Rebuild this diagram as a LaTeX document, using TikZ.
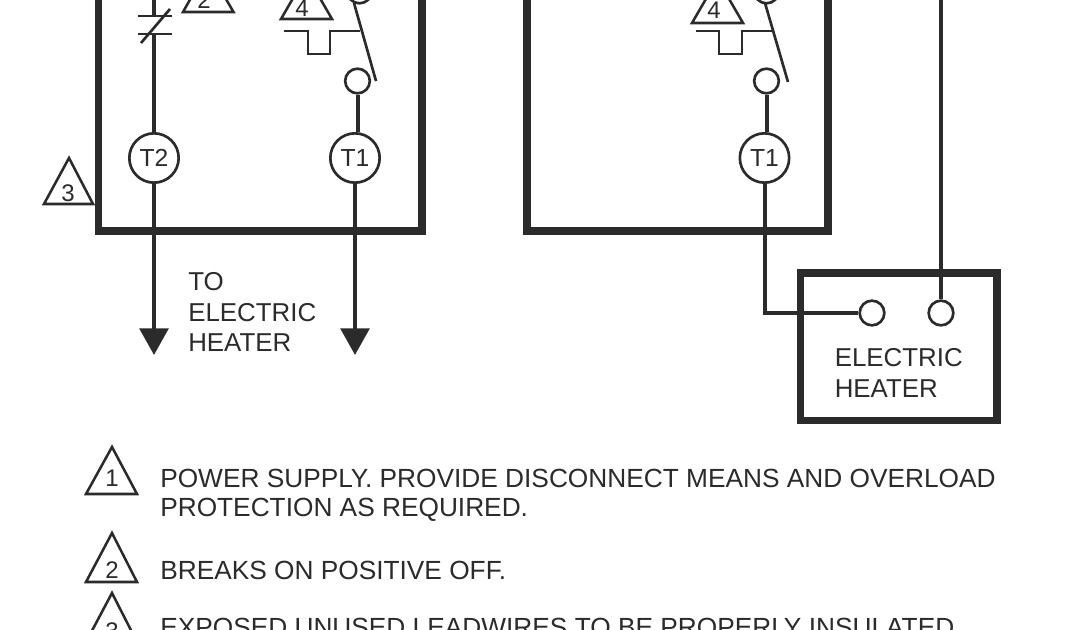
\documentclass[tikz,border=0pt]{standalone}
\usepackage{fontspec}
\setmainfont{Liberation Sans}
\usetikzlibrary{arrows.meta}
\definecolor{ink}{HTML}{2B2B2B}
\tikzset{
 x=0.75pt,y=-0.75pt,
 frame/.style={draw=ink,line width=5.6pt,miter limit=10},
 wire/.style={draw=ink,line width=3pt},
 thin wire/.style={draw=ink,line width=2pt},
 tri/.style={draw=ink,line width=1.9pt,line join=miter},
 term/.style={circle,draw=ink,line width=2pt,fill=white,minimum size=37pt,inner sep=0pt,text=ink,font=\fontsize{18.5}{18.5}\selectfont},
 port/.style={circle,draw=ink,line width=2pt,fill=white,minimum size=18.5pt,inner sep=0pt},
 lab/.style={anchor=base west,inner sep=0pt,text=ink,font=\fontsize{19.4}{23}\selectfont},
 note/.style={anchor=base west,inner sep=0pt,text=ink,font=\fontsize{19.7}{23}\selectfont},
 num/.style={inner sep=0pt,text=ink,font=\fontsize{18}{18}\selectfont},
 arrowed/.style={-{Triangle[length=20pt,width=21.5pt]}}
}
\begin{document}
\begin{tikzpicture}
\clip (0,0) rectangle (1085,630);
\fill[white] (0,0) rectangle (1085,630);
% boxes
\draw[frame] (98.5,-40) -- (98.5,231) -- (422,231) -- (422,-40);
\draw[frame] (527,-40) -- (527,231) -- (828,231) -- (828,-40);
\draw[frame] (800.5,273) rectangle (997,420.5);
% terminals
\node[term] (T2) at (154,158) {T2};
\node[term] (T1a) at (355,158) {T1};
\node[term] (T1b) at (764.5,158) {T1};
\node[port] (Pa) at (357.5,81) {};
\node[port] (Qa) at (359.5,-9) {};
\node[port] (Pb) at (766.5,81) {};
\node[port] (Qb) at (766.5,-9) {};
\node[port] (H1) at (872,313) {};
\node[port] (H2) at (941,313) {};
\coordinate (ArrL) at (154,355);
\coordinate (ArrR) at (355,355);
\coordinate (TopL) at (154,-10);
\coordinate (TopR) at (941,-10);
\coordinate (ContA) at (154,16);
\coordinate (ContB) at (154,34);
\coordinate (Cnr) at (764.5,313);
\coordinate (BladeA) at (354,3);
\coordinate (BladeB) at (765,3);
% wires
\draw[wire,arrowed] (T2) -- (ArrL);
\draw[wire,arrowed] (T1a) -- (ArrR);
\draw[wire] (T2) -- (ContB);
\draw[wire] (ContA) -- (TopL);
\draw[wire] (Pa.south) -- (Pa.south |- T1a.north);
\draw[wire] (Pb.south) -- (Pb.south |- T1b.north);
\draw[wire] (T1b) -- (Cnr) -- (H1);
\draw[wire] (H2) -- (TopR);
% contact
\draw[thin wire] (138,16) -- (172,16);
\draw[thin wire] (138,34) -- (172,34);
\draw[thin wire] (141,43) -- (170,9);
% switches
\draw[thin wire] (BladeA) -- (376,81);
\draw[thin wire] (284,31) -- (308,31) -- (308,54) -- (330,54) -- (330,31) -- (360,31);
\draw[thin wire] (696,31) -- (719,31) -- (719,54) -- (742,54) -- (742,31) -- (772,31);
\draw[thin wire] (BladeB) -- (788,82);
% triangles
\draw[tri] (208,-32) -- (233.5,12) -- (183,12) -- cycle;
\draw[tri] (306.5,-25) -- (332,19) -- (281,19) -- cycle;
\draw[tri] (717.5,-21) -- (743,23) -- (692,23) -- cycle;
\draw[tri] (69,158) -- (93,204) -- (44,204) -- cycle;
\draw[tri] (112,447) -- (137,494) -- (86,494) -- cycle;
\draw[tri] (112,533) -- (137,582) -- (86,582) -- cycle;
\draw[tri] (112,593) -- (137,642) -- (86,642) -- cycle;
\node[num] (n2a) at (204,0) {2};
\node[num] (n4a) at (302,8) {4};
\node[num] (n4b) at (714,10) {4};
\node[num] (n3a) at (68,193) {3};
\node[num] (n1) at (112,478) {1};
\node[num] (n2) at (112,570) {2};
\node[num] (n3) at (112,631) {3};
% labels
\node[lab] (to) at (188,291) {TO};
\node[lab] (el) at (188,322) {ELECTRIC};
\node[lab] (he) at (188,352) {HEATER};
\node[lab] (hel) at (834.5,367) {ELECTRIC};
\node[lab] (heh) at (834.5,398) {HEATER};
\node[note] (t1) at (160,488) {POWER SUPPLY. PROVIDE DISCONNECT MEANS AND OVERLOAD};
\node[note] (t1b) at (160,517) {PROTECTION AS REQUIRED.};
\node[note] (t2) at (160,579) {BREAKS ON POSITIVE OFF.};
\node[note] (t3) at (160,636) {EXPOSED UNUSED LEADWIRES TO BE PROPERLY INSULATED.};
\end{tikzpicture}
\end{document}
